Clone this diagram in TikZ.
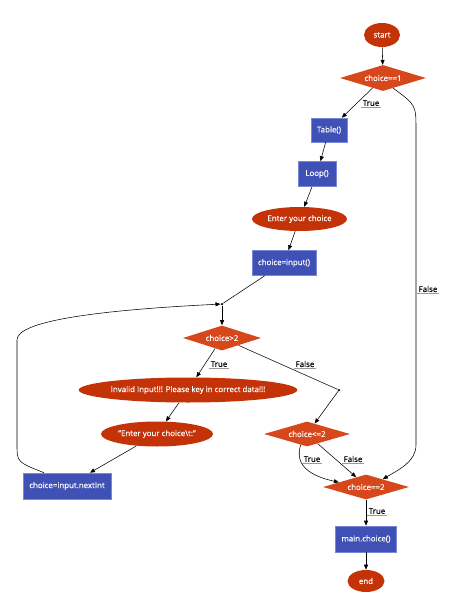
\documentclass[tikz,border=0pt]{standalone}
\usepackage{fontspec}
\setmainfont[FakeBold=0.4,AutoFakeBold=0.4]{Open Sans}
\usetikzlibrary{arrows.meta,shapes.geometric}
\definecolor{ovalred}{RGB}{196,50,8}
\definecolor{diaorange}{RGB}{214,72,28}
\definecolor{boxblue}{RGB}{63,81,181}
\definecolor{boxline}{RGB}{120,135,215}
\tikzset{
  oval/.style={ellipse, fill=ovalred, text=white, inner sep=0pt},
  dia/.style={diamond, aspect=3.4, fill=diaorange, text=white, inner sep=0pt},
  act/.style={rectangle, fill=boxblue, draw=boxline, text=white, inner sep=0pt},
  dot/.style={circle, fill=black, inner sep=0pt, minimum size=2.5pt},
  tag/.style={text=black, inner sep=1pt,
    append after command={(\tikzlastnode.south west) edge[-, draw=gray!80, line width=0.7pt] (\tikzlastnode.south east)}}
}
\begin{document}
\begin{tikzpicture}[x=1pt, y=-1pt, >={Triangle[length=5pt,width=4pt]}, font=\fontsize{7.9}{9}\selectfont\bfseries, line width=0.55pt]
\useasboundingbox (0,0) rectangle (462,605);
\node[oval, minimum width=36, minimum height=24](start) at (382,35){start};
\node[dia, minimum width=86, minimum height=26](c1) at (383,78){choice==1};
\node[act, minimum width=36, minimum height=24](tab) at (329,130){Table()};
\node[act, minimum width=38, minimum height=25](loop) at (317,174){Loop()};
\node[oval, minimum width=95, minimum height=24](ask) at (299.5,219){Enter your choice};
\node[act, minimum width=64, minimum height=25](inp) at (284,263){choice=input()};
\node[dot](j1) at (222,304){};
\node[dia, minimum width=78, minimum height=25](c2) at (222,338){choice>2};
\node[oval, minimum width=210, minimum height=25](bad) at (188,390){Invalid Input!!! Please key in correct data!!!};
\node[oval, minimum width=112, minimum height=25](again) at (157,434){"Enter your choice\textbackslash t:"};
\node[act, minimum width=88, minimum height=26](nxt) at (67,486){choice=input.nextInt};
\node[dot](j2) at (339,390){};
\node[dia, minimum width=86, minimum height=25](c3) at (307,434){choice<=2};
\node[dia, minimum width=86, minimum height=25](c4) at (366,487){choice==2};
\node[act, minimum width=61, minimum height=26](main) at (366,539){main.choice()};
\node[oval, minimum width=37, minimum height=22](end) at (366,581){end};

\draw[->](start) -- (c1);
\draw[->](c1) -- (tab);
\draw[->](tab) -- (loop);
\draw[->](loop) -- (ask);
\draw[->](ask) -- (inp);
\draw(inp) -- (j1);
\draw[->](j1) -- (c2);
\draw[->](c2) -- (bad);
\draw(c2) -- (j2);
\draw[->](bad) -- (again);
\draw[->](again) -- (nxt);
\draw[->]([xshift=-23pt]nxt.north) .. controls (17,462) .. (17,445) -- (17,340)
  .. controls (17,326) and (60,312) .. (j1);
\draw[->](j2) -- (c3);
\draw[->](c3.-120) .. controls (294,465) and (310,476) .. (c4.170);
\draw[->](c3.-42) -- (c4.135);
\draw[->](c1.-45) .. controls (416,105) .. (416,130) -- (416,445)
  .. controls (416,462) and (398,470) .. (c4.25);
\draw[->](c4) -- (main);
\draw[->](main) -- (end);

\node[tag](t1) at (371,103){True};
\node[tag](t2) at (219,364){True};
\node[tag](f2) at (305,364){False};
\node[tag](t3) at (312,459){True};
\node[tag](f3) at (353,459){False};
\node[tag](f1) at (428,289){False};
\node[tag](t4) at (377,511){True};
\end{tikzpicture}
\end{document}
